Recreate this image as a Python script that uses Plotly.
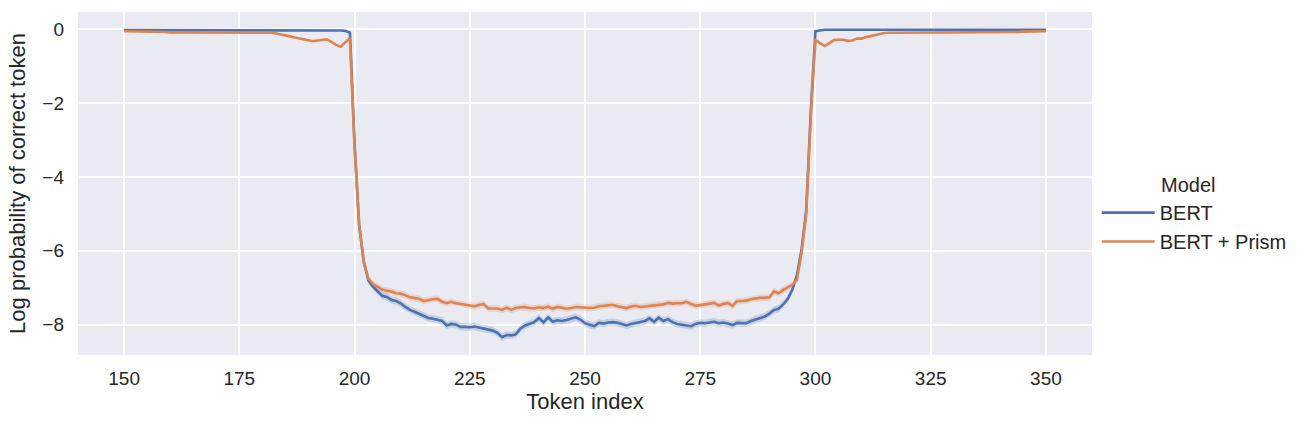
import plotly.graph_objects as go

token_index = list(range(150, 351))

bert = [
    -0.03, -0.03, -0.02, -0.02, -0.03, -0.03, -0.03, -0.02, -0.03, -0.03,
    -0.03, -0.02, -0.02, -0.03, -0.03, -0.03, -0.03, -0.02, -0.03, -0.03,
    -0.03, -0.03, -0.03, -0.03, -0.03, -0.03, -0.03, -0.03, -0.03, -0.03,
    -0.03, -0.03, -0.03, -0.03, -0.03, -0.03, -0.03, -0.03, -0.03, -0.02,
    -0.03, -0.03, -0.03, -0.03, -0.03, -0.03, -0.03, -0.04, -0.05, -0.10,
    -3.10, -5.30, -6.30, -6.80, -6.97, -7.10, -7.22, -7.25, -7.33, -7.36,
    -7.42, -7.52, -7.60, -7.65, -7.70, -7.76, -7.82, -7.84, -7.86, -7.90,
    -8.02, -7.98, -8.00, -8.06, -8.06, -8.07, -8.05, -8.08, -8.10, -8.13,
    -8.16, -8.22, -8.34, -8.28, -8.29, -8.26, -8.10, -8.02, -7.97, -7.93,
    -7.82, -7.94, -7.80, -7.92, -7.88, -7.90, -7.87, -7.84, -7.80, -7.86,
    -7.96, -8.00, -8.04, -7.95, -7.97, -7.94, -7.93, -7.95, -7.98, -8.02,
    -7.98, -7.95, -7.94, -7.90, -7.83, -7.92, -7.81, -7.90, -7.85, -7.93,
    -7.98, -8.00, -8.02, -8.04, -7.98, -7.95, -7.96, -7.93, -7.92, -7.96,
    -7.94, -7.97, -8.01, -7.95, -7.96, -7.96, -7.90, -7.86, -7.82, -7.78,
    -7.70, -7.60, -7.57, -7.45, -7.30, -7.05, -6.65, -5.95, -4.90, -2.20,
    -0.06, -0.03, -0.02, -0.02, -0.02, -0.03, -0.02, -0.02, -0.02, -0.03,
    -0.02, -0.02, -0.03, -0.02, -0.02, -0.02, -0.03, -0.02, -0.02, -0.02,
    -0.03, -0.02, -0.02, -0.02, -0.02, -0.03, -0.02, -0.02, -0.02, -0.02,
    -0.02, -0.02, -0.03, -0.02, -0.02, -0.02, -0.02, -0.02, -0.03, -0.02,
    -0.02, -0.02, -0.02, -0.02, -0.02, -0.02, -0.02, -0.02, -0.02, -0.02,
    -0.02,
]

bert_prism = [
    -0.06, -0.06, -0.06, -0.07, -0.07, -0.07, -0.07, -0.08, -0.08, -0.08,
    -0.09, -0.09, -0.08, -0.08, -0.09, -0.09, -0.09, -0.09, -0.08, -0.08,
    -0.08, -0.08, -0.08, -0.08, -0.08, -0.08, -0.08, -0.08, -0.08, -0.08,
    -0.08, -0.09, -0.10, -0.12, -0.14, -0.17, -0.20, -0.23, -0.26, -0.29,
    -0.31, -0.33, -0.31, -0.29, -0.28, -0.35, -0.43, -0.48, -0.36, -0.24,
    -3.20, -5.30, -6.30, -6.75, -6.90, -6.98, -7.05, -7.08, -7.10, -7.15,
    -7.16, -7.20, -7.26, -7.28, -7.30, -7.36, -7.33, -7.31, -7.30, -7.38,
    -7.42, -7.38, -7.42, -7.44, -7.46, -7.48, -7.50, -7.47, -7.44, -7.56,
    -7.55, -7.56, -7.60, -7.54, -7.60, -7.55, -7.53, -7.52, -7.55, -7.56,
    -7.53, -7.55, -7.51, -7.57, -7.52, -7.54, -7.57, -7.55, -7.52, -7.53,
    -7.55, -7.55, -7.54, -7.50, -7.49, -7.47, -7.46, -7.50, -7.53, -7.55,
    -7.51, -7.49, -7.52, -7.51, -7.50, -7.48, -7.46, -7.45, -7.41, -7.43,
    -7.42, -7.42, -7.38, -7.44, -7.49, -7.47, -7.46, -7.43, -7.41, -7.48,
    -7.44, -7.41, -7.49, -7.36, -7.36, -7.35, -7.31, -7.28, -7.27, -7.27,
    -7.26, -7.10, -7.15, -7.06, -7.00, -6.92, -6.78, -6.05, -5.00, -2.30,
    -0.30, -0.38, -0.46, -0.38, -0.30, -0.29, -0.29, -0.32, -0.31, -0.26,
    -0.26, -0.22, -0.19, -0.15, -0.13, -0.11, -0.10, -0.10, -0.10, -0.10,
    -0.09, -0.09, -0.09, -0.10, -0.10, -0.10, -0.09, -0.10, -0.10, -0.10,
    -0.10, -0.09, -0.09, -0.09, -0.10, -0.09, -0.09, -0.09, -0.09, -0.08,
    -0.08, -0.08, -0.08, -0.08, -0.08, -0.07, -0.07, -0.07, -0.07, -0.06,
    -0.06,
]

# 95% CI half-widths (estimated from the shaded bands)
bert_ci = (
    [0.01] * 49 + [0.04]
    + [0.12, 0.10, 0.09, 0.09, 0.09] + [0.10] * 92 + [0.12, 0.12, 0.12]
    + [0.01] * 51
)
prism_ci = (
    [0.02] * 49 + [0.05]
    + [0.12, 0.10, 0.09, 0.09, 0.09] + [0.09] * 92 + [0.12, 0.12, 0.12]
    + [0.02] * 51
)

series_names = ["BERT", "BERT + Prism"]
series_values = [bert, bert_prism]
series_ci = [bert_ci, prism_ci]
line_colors = ["#4C72B0", "#DD8452"]
band_colors = ["rgba(76,114,176,0.22)", "rgba(221,132,82,0.22)"]
legend_ids = ["legend", "legend2"]

TEXT = "#262626"
FONT = "Liberation Sans, Arial, DejaVu Sans, sans-serif"

fig = go.Figure()
for name, vals, ci, lc, bc in zip(series_names, series_values, series_ci, line_colors, band_colors):
    upper = [v + c for v, c in zip(vals, ci)]
    lower = [v - c for v, c in zip(vals, ci)]
    fig.add_trace(go.Scatter(
        x=token_index + token_index[::-1],
        y=upper + lower[::-1],
        fill="toself", fillcolor=bc, line=dict(width=0),
        mode="lines", hoverinfo="skip", showlegend=False,
    ))
for name, vals, lc, lg in zip(series_names, series_values, line_colors, legend_ids):
    fig.add_trace(go.Scatter(
        x=token_index, y=vals, mode="lines", name=name,
        line=dict(color=lc, width=2.6), legend=lg,
    ))

W, H = 1314, 429
plot_left, plot_right = 78, 1092
plot_top, plot_bottom = 11.5, 355.5
ph = plot_bottom - plot_top
pw = plot_right - plot_left


def py(ypx):
    return (plot_bottom - ypx) / ph


def px(xpx):
    return (xpx - plot_left) / pw


legend_common = dict(
    font=dict(family=FONT, size=20, color=TEXT),
    bgcolor="rgba(0,0,0,0)", borderwidth=0,
    x=px(1096.7), xanchor="left", yanchor="middle",
    itemwidth=53, itemclick=False, itemdoubleclick=False,
    tracegroupgap=0,
)

fig.update_layout(
    width=W, height=H,
    margin=dict(l=plot_left, r=W - plot_right, t=plot_top, b=H - plot_bottom),
    paper_bgcolor="white", plot_bgcolor="#EAEAF2",
    font=dict(family=FONT, size=19, color=TEXT),
    legend=dict(y=py(212.7), **legend_common),
    legend2=dict(y=py(241.7), **legend_common),
    annotations=[dict(
        text="Model", xref="paper", yref="paper",
        x=px(1159), y=py(185),
        xanchor="left", yanchor="middle", showarrow=False,
        font=dict(family=FONT, size=20, color=TEXT),
    )],
    xaxis=dict(
        range=[140, 360], tickvals=[150, 175, 200, 225, 250, 275, 300, 325, 350],
        showgrid=True, gridcolor="white", gridwidth=1.6, zeroline=False,
        showline=False, ticks="", ticklabelstandoff=10, automargin=False,
        tickfont=dict(family=FONT, size=19, color=TEXT),
        title=dict(text="Token index", font=dict(family=FONT, size=22, color=TEXT), standoff=4),
    ),
    yaxis=dict(
        range=[-8.82, 0.46], tickvals=[0, -2, -4, -6, -8],
        ticktext=["0", "\u22122", "\u22124", "\u22126", "\u22128"],
        showgrid=True, gridcolor="white", gridwidth=1.6, zeroline=False,
        showline=False, ticks="", ticklabelstandoff=13, automargin=False,
        tickfont=dict(family=FONT, size=19, color=TEXT),
        title=dict(text="Log probability of correct token", font=dict(family=FONT, size=22, color=TEXT), standoff=10),
    ),
)

fig.write_html(
    "out.html",
    config={"displayModeBar": False},
    post_script="document.body.style.margin='0';",
)
